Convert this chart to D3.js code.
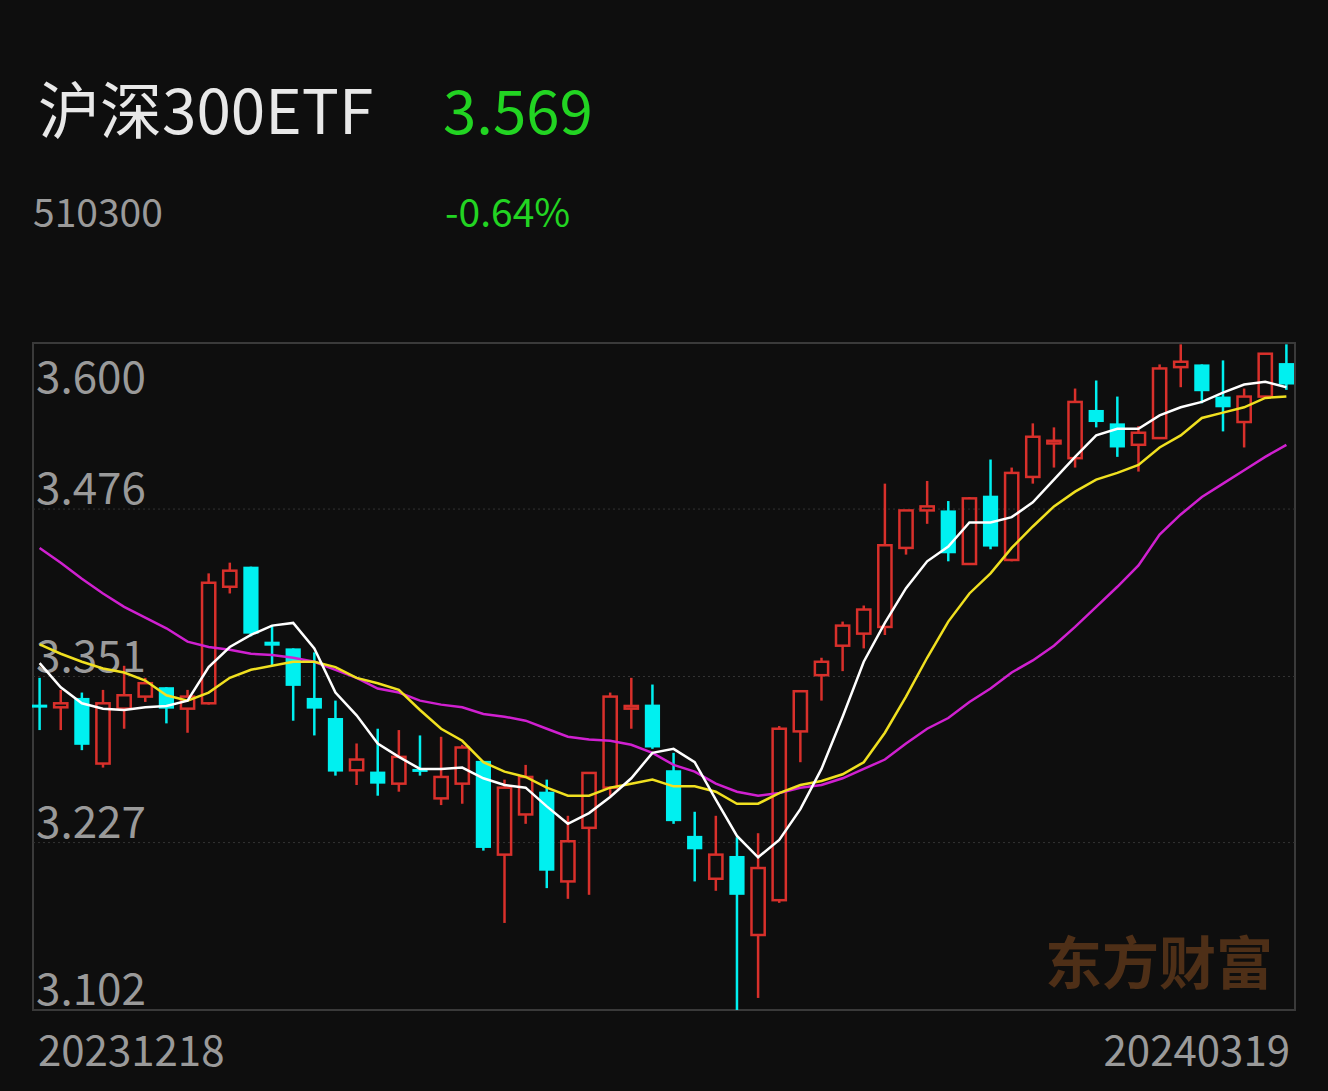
<!DOCTYPE html>
<html><head><meta charset="utf-8">
<script src="https://cdn.jsdelivr.net/npm/d3@7"></script>
<style>
body{margin:0;background:#0e0e0e;}
svg text{font-family:"Noto Sans CJK SC","Noto Sans",sans-serif;}
</style></head>
<body><svg id="chart" width="1328" height="1091"></svg>
<script>
// daily candles, 20231218 .. 20240319
var open  = [3.330,3.328,3.335,3.286,3.327,3.336,3.343,3.327,3.331,3.418,3.433,3.377,3.372,3.335,3.320,3.281,3.280,3.271,3.282,3.260,3.271,3.288,3.218,3.248,3.265,3.198,3.238,3.268,3.327,3.330,3.281,3.232,3.200,3.217,3.158,3.184,3.310,3.352,3.374,3.383,3.388,3.447,3.475,3.475,3.435,3.486,3.438,3.500,3.525,3.514,3.550,3.540,3.524,3.529,3.582,3.584,3.560,3.541,3.560,3.585];
var close = [3.328,3.331,3.300,3.331,3.337,3.346,3.327,3.336,3.421,3.430,3.383,3.374,3.344,3.327,3.280,3.289,3.271,3.291,3.280,3.276,3.298,3.223,3.268,3.276,3.206,3.228,3.279,3.336,3.329,3.298,3.243,3.222,3.218,3.188,3.208,3.312,3.340,3.362,3.389,3.401,3.449,3.475,3.478,3.443,3.484,3.448,3.503,3.530,3.527,3.556,3.541,3.522,3.533,3.581,3.586,3.564,3.552,3.560,3.592,3.569];
var high  = [3.350,3.341,3.339,3.341,3.359,3.350,3.343,3.341,3.428,3.436,3.433,3.389,3.372,3.369,3.333,3.301,3.312,3.311,3.307,3.306,3.300,3.288,3.274,3.285,3.274,3.247,3.279,3.339,3.350,3.345,3.294,3.250,3.247,3.231,3.234,3.314,3.340,3.365,3.392,3.404,3.495,3.475,3.497,3.482,3.485,3.513,3.507,3.540,3.537,3.566,3.572,3.560,3.538,3.584,3.599,3.584,3.587,3.566,3.592,3.599];
var low   = [3.311,3.311,3.296,3.283,3.312,3.332,3.316,3.309,3.330,3.413,3.381,3.359,3.318,3.307,3.277,3.270,3.262,3.265,3.277,3.255,3.256,3.221,3.167,3.241,3.193,3.185,3.188,3.262,3.312,3.297,3.241,3.198,3.191,3.102,3.111,3.182,3.287,3.333,3.355,3.372,3.382,3.442,3.465,3.437,3.435,3.446,3.437,3.495,3.507,3.507,3.537,3.515,3.504,3.529,3.567,3.555,3.534,3.522,3.560,3.565];

// moving averages
var ma5  = [3.361,3.343,3.331,3.327,3.326,3.328,3.329,3.333,3.358,3.373,3.382,3.389,3.391,3.372,3.339,3.322,3.301,3.291,3.282,3.282,3.283,3.275,3.270,3.268,3.254,3.241,3.249,3.261,3.275,3.294,3.297,3.287,3.259,3.232,3.216,3.229,3.252,3.282,3.321,3.362,3.391,3.417,3.437,3.448,3.466,3.466,3.470,3.481,3.498,3.515,3.531,3.536,3.536,3.546,3.552,3.556,3.563,3.569,3.571,3.567];
var ma10 = [3.375,3.368,3.362,3.357,3.354,3.348,3.337,3.333,3.339,3.350,3.356,3.359,3.362,3.362,3.358,3.350,3.346,3.341,3.326,3.312,3.303,3.287,3.280,3.276,3.268,3.262,3.262,3.268,3.271,3.274,3.269,3.269,3.265,3.256,3.256,3.264,3.270,3.273,3.278,3.287,3.309,3.336,3.365,3.392,3.413,3.428,3.447,3.463,3.478,3.489,3.498,3.503,3.509,3.522,3.531,3.544,3.548,3.552,3.559,3.560];
var ma20 = [3.447,3.436,3.424,3.413,3.403,3.395,3.387,3.377,3.373,3.371,3.368,3.367,3.365,3.362,3.356,3.350,3.342,3.339,3.333,3.330,3.328,3.323,3.321,3.318,3.312,3.306,3.304,3.303,3.300,3.294,3.285,3.280,3.271,3.265,3.262,3.264,3.268,3.270,3.275,3.282,3.289,3.301,3.312,3.320,3.332,3.342,3.354,3.363,3.374,3.388,3.403,3.418,3.434,3.457,3.472,3.485,3.495,3.505,3.515,3.524];

var yTicks = [3.600, 3.476, 3.351, 3.227, 3.102];
var dateLabels = ["20231218", "20240319"];

var svg = d3.select("#chart");
var L = 33, R = 1295, T = 343, B = 1010;

svg.append("rect").attr("width", 1328).attr("height", 1091).attr("fill", "#0e0e0e");

svg.append("text").attr("x", 38).attr("y", 134).attr("font-size", 62).attr("fill", "#e8e8e8").text("沪深300ETF");
svg.append("text").attr("x", 443).attr("y", 134).attr("font-size", 60).attr("fill", "#22d422").text("3.569");
svg.append("text").attr("x", 33).attr("y", 227).attr("font-size", 39).attr("fill", "#9a9a9a").text("510300");
svg.append("text").attr("x", 445).attr("y", 227).attr("font-size", 39).attr("fill", "#22d422").text("-0.64%");

var x = d3.scaleBand().domain(d3.range(open.length)).range([L - 1, R - 1]).paddingInner(0.28);
var y = d3.scaleLinear().domain([3.102, 3.600]).range([B, T]);
var cx = function (i) { return x(i) + x.bandwidth() / 2; };

// frame and grid
svg.append("rect").attr("x", L).attr("y", T).attr("width", R - L).attr("height", B - T)
  .attr("fill", "none").attr("stroke", "#3a3a3a").attr("stroke-width", 2);
svg.selectAll(".grid").data(yTicks.slice(1, 4)).enter().append("line")
  .attr("x1", L).attr("x2", R).attr("y1", function (d) { return y(d); }).attr("y2", function (d) { return y(d); })
  .attr("stroke", "#333").attr("stroke-dasharray", "2,3");

// watermark
svg.append("text").attr("x", 1045).attr("y", 984).attr("font-size", 57).attr("font-weight", "bold")
  .attr("fill", "#4e2f17").text("东方财富");

// y labels
svg.selectAll(".yl").data(yTicks).enter().append("text")
  .attr("x", 36).attr("y", function (d, i) { return i == 0 ? y(d) + 50 : y(d) - 5; })
  .attr("font-size", 44).attr("fill", "#9a9a9a").text(function (d) { return d.toFixed(3); });

// candles
var g = svg.append("g");
open.forEach(function (o, i) {
  var c = close[i], up = c > o;
  var col = up ? "#d8302b" : "#00f0f0";
  var top = y(Math.max(o, c)), bot = y(Math.min(o, c));
  if (up) {
    g.append("line").attr("x1", cx(i)).attr("x2", cx(i)).attr("y1", y(high[i])).attr("y2", top).attr("stroke", col).attr("stroke-width", 2.5);
    g.append("line").attr("x1", cx(i)).attr("x2", cx(i)).attr("y1", bot).attr("y2", y(low[i])).attr("stroke", col).attr("stroke-width", 2.5);
    g.append("rect").attr("x", x(i) + 1).attr("y", top).attr("width", x.bandwidth() - 2).attr("height", Math.max(bot - top, 1))
      .attr("fill", "none").attr("stroke", col).attr("stroke-width", 2.5);
  } else {
    g.append("line").attr("x1", cx(i)).attr("x2", cx(i)).attr("y1", y(high[i])).attr("y2", y(low[i])).attr("stroke", col).attr("stroke-width", 2.5);
    g.append("rect").attr("x", x(i)).attr("y", top).attr("width", x.bandwidth()).attr("height", Math.max(bot - top, 3))
      .attr("fill", col);
  }
});

// MA lines
var line = d3.line().x(function (d, i) { return cx(i); }).y(function (d) { return y(d); });
[[ma20, "#d020d0"], [ma10, "#f0e020"], [ma5, "#ffffff"]].forEach(function (m) {
  svg.append("path").attr("d", line(m[0])).attr("fill", "none").attr("stroke", m[1]).attr("stroke-width", 2.5);
});

// dates
svg.append("text").attr("x", 38).attr("y", 1066).attr("font-size", 42).attr("fill", "#9a9a9a").text(dateLabels[0]);
svg.append("text").attr("x", 1290).attr("y", 1066).attr("font-size", 42).attr("fill", "#9a9a9a")
  .attr("text-anchor", "end").text(dateLabels[1]);
</script></body></html>
